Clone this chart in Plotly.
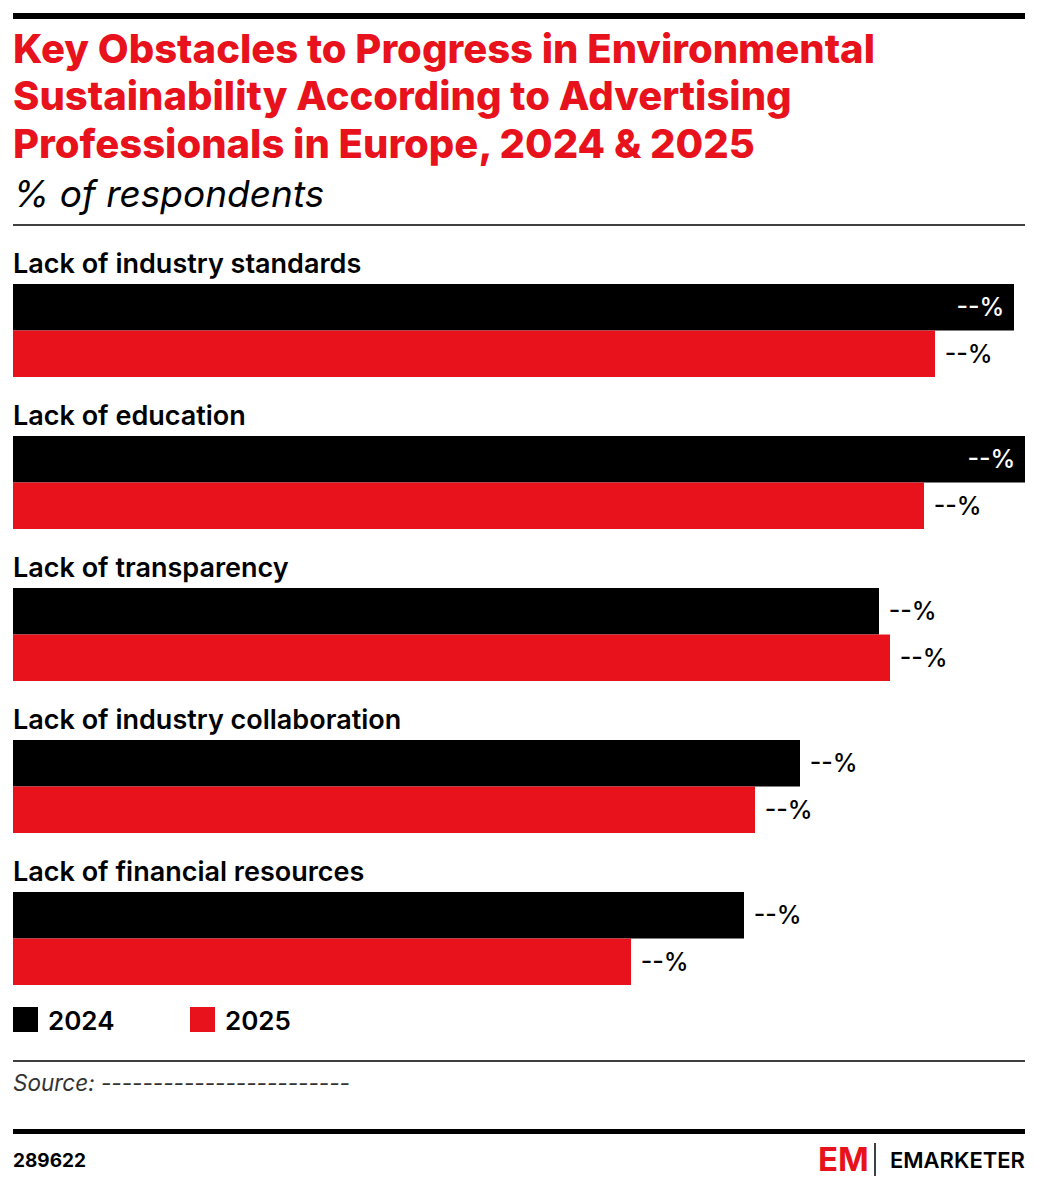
import plotly.graph_objects as go

categories = ["Lack of industry standards", "Lack of education", "Lack of transparency",
              "Lack of industry collaboration", "Lack of financial resources"]
v2024 = [1001, 1012, 866, 787, 731]
v2025 = [922, 911, 877, 742, 618]
labels2024 = ["--%"] * 5
labels2025 = ["--%"] * 5
BLACK, RED = "#000000", "#e8121c"
FONT = "Inter"

W, H = 1038, 1189
OFF = 8  # page body margin
PW = W - OFF
def px(x):
    return (x - OFF) / PW

x0, x1 = 13, 1025
tx = 11  # text left (annotation padding compensation)
top, pitch, bh = 284, 152, 46.5

fig = go.Figure()
y24 = [top + i * pitch + bh / 2 for i in range(len(categories))]
y25 = [top + i * pitch + bh * 1.5 for i in range(len(categories))]
inside = [v > 950 for v in v2024]
fig.add_bar(x=v2024, y=y24, orientation="h", width=bh, marker=dict(color=BLACK, line_width=0),
            text=[(t + " ") if f else (" " + t) for t, f in zip(labels2024, inside)],
            textposition=["inside" if f else "outside" for f in inside],
            insidetextanchor="end", textfont=dict(size=25, family=FONT, weight=500,
            color=["white" if f else "black" for f in inside]), cliponaxis=False, showlegend=False)
fig.add_bar(x=v2025, y=y25, orientation="h", width=bh, marker=dict(color=RED, line_width=0),
            text=[" " + t for t in labels2025], textposition="outside",
            textfont=dict(size=25, family=FONT, color="black", weight=500), cliponaxis=False, showlegend=False)

fig.update_layout(width=PW, height=H - OFF, margin=dict(l=0, r=0, t=0, b=0),
                  plot_bgcolor="white", paper_bgcolor="white", barmode="overlay")
fig.update_xaxes(range=[0, x1 - x0], domain=[px(x0), px(x1)], visible=False)
fig.update_yaxes(range=[H, OFF], visible=False)

ann = []
for i, c in enumerate(categories):
    ann.append(dict(x=px(tx), xref="paper", y=top + i * pitch - 21, yref="y", text=c,
                    showarrow=False, xanchor="left", yanchor="middle",
                    font=dict(size=27, family=FONT, color="black", weight=600)))
title_lines = ["Key Obstacles to Progress in Environmental",
               "Sustainability According to Advertising",
               "Professionals in Europe, 2024 & 2025"]
for j, t in enumerate(title_lines):
    ann.append(dict(x=px(tx), xref="paper", y=48 + j * 47.5, yref="y", text=t, showarrow=False,
                    xanchor="left", yanchor="middle",
                    font=dict(size=40, family=FONT, color=RED, weight=800)))
ann.append(dict(x=px(tx), xref="paper", y=193, yref="y", text="<i>% of respondents</i>",
                showarrow=False, xanchor="left", yanchor="middle",
                font=dict(size=37, family=FONT, color="black")))
for name, lx in [("2024", 13), ("2025", 190)]:
    ann.append(dict(x=px(lx + 33), xref="paper", y=1020, yref="y", text=name, showarrow=False,
                    xanchor="left", yanchor="middle",
                    font=dict(size=26, family=FONT, color="black", weight=600)))
ann.append(dict(x=px(tx), xref="paper", y=1082, yref="y", text="<i>Source: ------------------------</i>",
                showarrow=False, xanchor="left", yanchor="middle",
                font=dict(size=22.5, family=FONT, color="#333333")))
ann.append(dict(x=px(tx), xref="paper", y=1160, yref="y", text="289622", showarrow=False,
                xanchor="left", yanchor="middle", font=dict(size=19, family=FONT, color="black", weight=700)))
ann.append(dict(x=px(816), xref="paper", y=1159, yref="y", text="<b>EM</b>", showarrow=False,
                xanchor="left", yanchor="middle", font=dict(size=33, family=FONT, color=RED, weight=900)))
ann.append(dict(x=px(1027), xref="paper", y=1160, yref="y", text="EMARKETER", showarrow=False,
                xanchor="right", yanchor="middle", font=dict(size=22, family=FONT, color="black", weight=600)))

shapes = [
    dict(type="rect", xref="paper", yref="y", x0=px(x0), x1=px(x1), y0=13, y1=19, fillcolor="black", line_width=0),
    dict(type="line", xref="paper", yref="y", x0=px(x0), x1=px(x1), y0=225, y1=225, line=dict(color="black", width=1.5)),
    dict(type="line", xref="paper", yref="y", x0=px(x0), x1=px(x1), y0=1061, y1=1061, line=dict(color="black", width=1.5)),
    dict(type="rect", xref="paper", yref="y", x0=px(x0), x1=px(x1), y0=1129, y1=1134, fillcolor="black", line_width=0),
    dict(type="rect", xref="paper", yref="y", x0=px(13), x1=px(38), y0=1007, y1=1032, fillcolor=BLACK, line_width=0),
    dict(type="rect", xref="paper", yref="y", x0=px(190), x1=px(215), y0=1007, y1=1032, fillcolor=RED, line_width=0),
    dict(type="line", xref="paper", yref="y", x0=px(875), x1=px(875), y0=1143, y1=1176, line=dict(color="black", width=1.5)),
]
fig.update_layout(annotations=ann, shapes=shapes)
fig.write_html("out.html")
